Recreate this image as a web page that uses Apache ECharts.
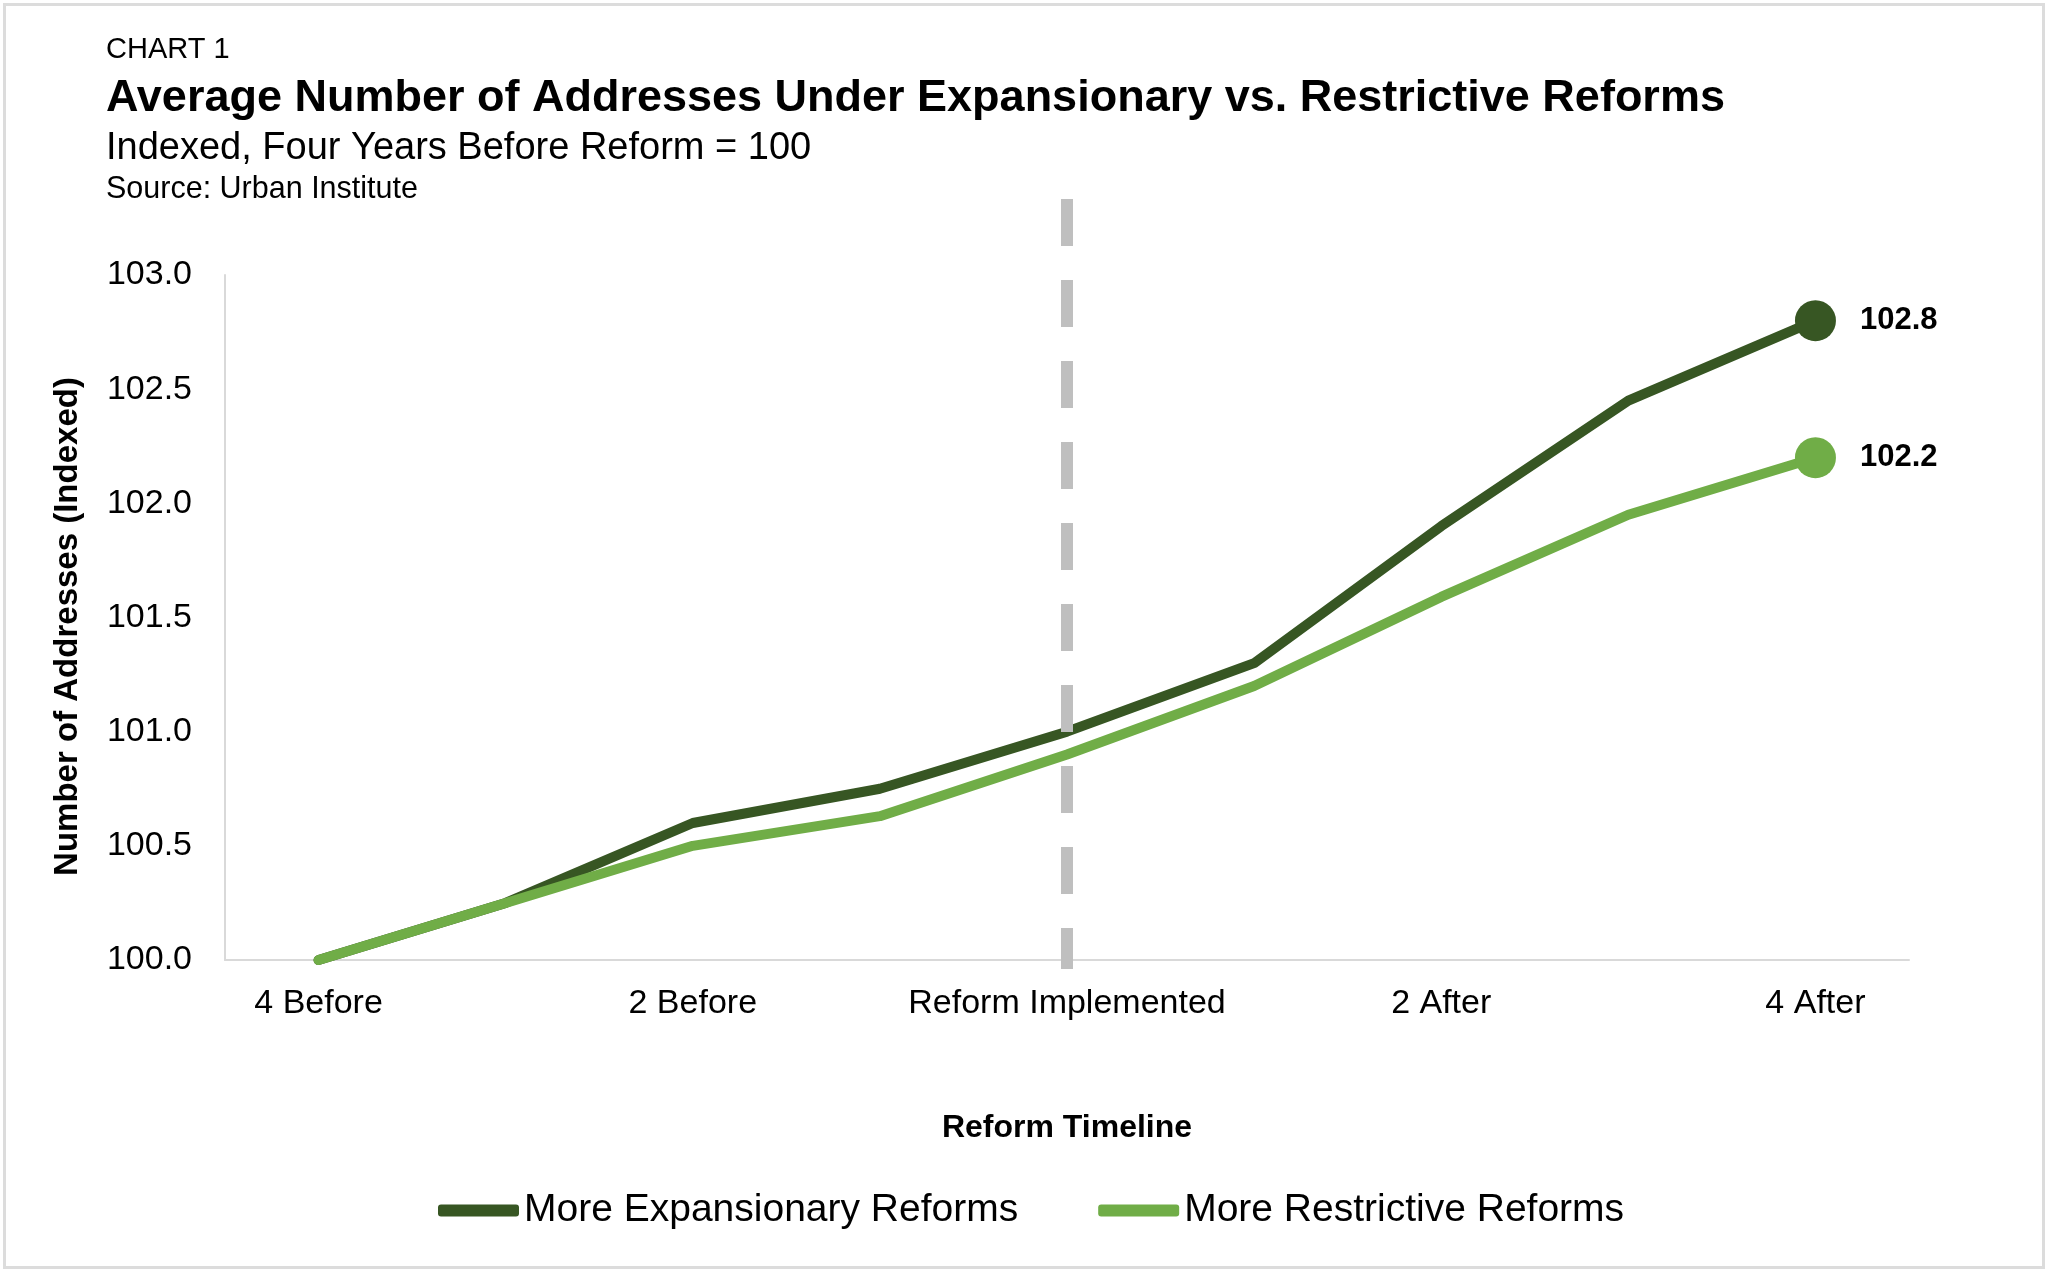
<!DOCTYPE html>
<html>
<head>
<meta charset="utf-8">
<script src="https://cdn.jsdelivr.net/npm/echarts@6/dist/echarts.min.js"></script>
<style>
	html, body { margin: 0; padding: 0; background: #fff; }
	#main { width: 2048px; height: 1272px; position: relative; }
	#frame { position: absolute; left: 3px; top: 3px; width: 2036px; height: 1260px; border: 3px solid #dcdcdc; pointer-events: none; }
</style>
</head>
<body>
<div id="main"></div>
<div id="frame"></div>
<script>
//横坐标
var categories = ['4 Before', '3 Before', '2 Before', '1 Before', 'Reform Implemented', '1 After', '2 After', '3 After', '4 After']
//纵坐标刻度
var yTicks = [100.0, 100.5, 101.0, 101.5, 102.0, 102.5, 103.0]
//系列名称
var seriesNames = ['More Expansionary Reforms', 'More Restrictive Reforms']
//数据
var expansionary = [100.0, 100.25, 100.6, 100.75, 101.0, 101.3, 101.9, 102.45, 102.8]
var restrictive = [100.0, 100.25, 100.5, 100.63, 100.9, 101.2, 101.59, 101.95, 102.2]
var colors = ['#375623', '#70ad47']
var reformMark = 'Reform Implemented'

var helv = '"Liberation Sans", Arial, Helvetica, sans-serif'

function lineData(vals) {
	var last = vals.length - 1
	return vals.map(function (v, i) {
		if (i === last) {
			return { value: v, symbol: 'circle', symbolSize: 41, label: { show: true } }
		}
		return { value: v, symbol: 'none' }
	})
}

var myChart = echarts.init(document.getElementById('main'))
var series = []
var lists = [expansionary, restrictive]
for (var i = 0; i < lists.length; i++) {
	series.push({
		name: seriesNames[i],
		type: 'line',
		xAxisIndex: 0,
		yAxisIndex: 0,
		data: lineData(lists[i]),
		color: colors[i],
		showSymbol: true,
		lineStyle: { width: 10, color: colors[i], cap: 'round' },
		itemStyle: { color: colors[i] },
		label: {
			show: false,
			position: 'right',
			distance: 24,
			color: '#000',
			fontFamily: helv,
			fontWeight: 'bold',
			fontSize: 31,
			formatter: function (p) { return p.value.toFixed(1) }
		},
		emphasis: { disabled: true },
		z: 3 + i
	})
}
// 虚线（改革实施）
series.push({
	type: 'line',
	xAxisIndex: 1,
	yAxisIndex: 1,
	data: [],
	silent: true,
	z: 10,
	markLine: {
		silent: true,
		symbol: ['none', 'none'],
		label: { show: false },
		lineStyle: { color: '#bfbfbf', width: 12, type: [47, 34] },
		emphasis: { disabled: true },
		data: [[{ coord: [reformMark, 1] }, { coord: [reformMark, 0] }]]
	}
})

var option = {
	animation: false,
	title: [
		{ text: 'CHART 1', left: 106, top: 35, padding: 0, textStyle: { fontFamily: helv, fontWeight: 'normal', fontSize: 29, color: '#000' } },
		{ text: 'Average Number of Addresses Under Expansionary vs. Restrictive Reforms', left: 106, top: 76, padding: 0, textStyle: { fontFamily: helv, fontWeight: 'bold', fontSize: 45, color: '#000' } },
		{ text: 'Indexed, Four Years Before Reform = 100', left: 106, top: 130, padding: 0, textStyle: { fontFamily: helv, fontWeight: 'normal', fontSize: 38, color: '#000' } },
		{ text: 'Source: Urban Institute', left: 106, top: 174, padding: 0, textStyle: { fontFamily: helv, fontWeight: 'normal', fontSize: 30.5, color: '#000' } }
	],
	legend: {
		data: seriesNames,
		left: 433,
		top: 1186,
		itemWidth: 81,
		itemHeight: 12,
		itemGap: 80,
		icon: 'roundRect',
		textStyle: { fontFamily: helv, fontSize: 39, color: '#000' }
	},
	grid: [
		{ left: 225, right: 139, top: 275, bottom: 312 },
		{ left: 225, right: 139, top: 199, bottom: 303 }
	],
	xAxis: [
		{
			type: 'category',
			gridIndex: 0,
			data: categories,
			boundaryGap: true,
			name: 'Reform Timeline',
			nameLocation: 'middle',
			nameGap: 152,
			nameTextStyle: { fontFamily: helv, fontWeight: 'bold', fontSize: 32, color: '#000' },
			axisLine: { lineStyle: { color: '#d9d9d9', width: 2 } },
			axisTick: { show: false },
			axisLabel: { interval: 1, margin: 27, fontFamily: helv, fontSize: 34, color: '#000' },
			splitLine: { show: false }
		},
		{
			type: 'category',
			gridIndex: 1,
			data: categories,
			boundaryGap: true,
			show: false
		}
	],
	yAxis: [
		{
			type: 'value',
			gridIndex: 0,
			min: yTicks[0],
			max: yTicks[yTicks.length - 1],
			interval: 0.5,
			name: 'Number of Addresses (Indexed)',
			nameLocation: 'middle',
			nameGap: 141,
			nameTextStyle: { fontFamily: helv, fontWeight: 'bold', fontSize: 33, color: '#000', padding: [0, 18, 0, 0] },
			axisLine: { show: true, lineStyle: { color: '#d9d9d9', width: 2 } },
			axisTick: { show: false },
			axisLabel: { margin: 33, fontFamily: helv, fontSize: 34, color: '#000', formatter: function (v) { return v.toFixed(1) } },
			splitLine: { show: false }
		},
		{
			type: 'value',
			gridIndex: 1,
			min: 0,
			max: 1,
			show: false
		}
	],
	series: series
}
myChart.setOption(option, true)
</script>
</body>
</html>
